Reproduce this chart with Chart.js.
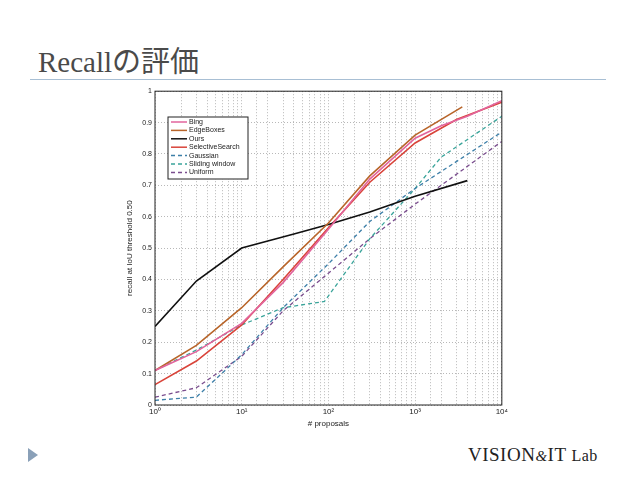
<!DOCTYPE html>
<html><head><meta charset="utf-8">
<script src="https://cdn.jsdelivr.net/npm/chart.js@4"></script>
<style>
body{margin:0;width:638px;height:478px;background:#fff;position:relative;overflow:hidden;font-family:"Liberation Serif",serif}
#title{position:absolute;left:38px;top:38px;font-size:29px;color:#4a4a4a;font-family:"Liberation Serif","Noto Sans CJK JP",serif}
#rule{position:absolute;left:30px;top:79px;width:576px;height:1px;background:#a8bfd4}
#wrap{position:absolute;left:125px;top:84px;width:385px;height:345px}
#tri{position:absolute;left:28px;top:448px;width:0;height:0;border-top:7px solid transparent;border-bottom:7px solid transparent;border-left:10px solid #8aa0b8}
#logo{position:absolute;left:468px;top:444px;font-size:19px;color:#222;letter-spacing:0.5px}
</style></head><body>
<div id="title">Recallの評価</div>
<div id="rule"></div>
<div id="wrap"><canvas id="c" width="385" height="345"></canvas></div>
<div id="tri"></div>
<div id="logo">VISION<i style="font-size:15px">&amp;</i>IT <span style="font-size:16px">Lab</span></div>
<script>
// ── DATA ──────────────────────────────
const bingX  = [1, 3, 10, 30, 100, 300, 1000, 2000, 4000, 10000];
const bingY  = [0.11, 0.17, 0.26, 0.39, 0.56, 0.72, 0.85, 0.89, 0.92, 0.97];
const edgeX  = [1, 3, 10, 30, 100, 300, 1000, 3500];
const edgeY  = [0.11, 0.19, 0.31, 0.44, 0.58, 0.73, 0.86, 0.95];
const oursX  = [1, 3, 10, 40, 100, 300, 1000, 4000];
const oursY  = [0.25, 0.395, 0.50, 0.545, 0.575, 0.615, 0.665, 0.715];
const ssX    = [1, 3, 10, 30, 100, 300, 1000, 3000, 10000];
const ssY    = [0.065, 0.14, 0.255, 0.40, 0.565, 0.71, 0.835, 0.91, 0.965];
const gaussX = [1, 3, 10, 30, 100, 300, 1000, 10000];
const gaussY = [0.015, 0.025, 0.16, 0.31, 0.45, 0.585, 0.69, 0.87];
const slideX = [1, 3, 10, 30, 90, 300, 1000, 2000, 10000];
const slideY = [0.11, 0.175, 0.255, 0.31, 0.33, 0.53, 0.69, 0.79, 0.92];
const unifX  = [1, 3, 10, 30, 100, 300, 1000, 10000];
const unifY  = [0.025, 0.055, 0.155, 0.30, 0.42, 0.53, 0.64, 0.84];
const yTicks = [0, 0.1, 0.2, 0.3, 0.4, 0.5, 0.6, 0.7, 0.8, 0.9, 1];

const pts = (xs, ys) => xs.map((x, i) => ({ x, y: ys[i] }));
const SUP = { 0: "⁰", 1: "¹", 2: "²", 3: "³", 4: "⁴" };

function ds(label, xs, ys, color, dashed) {
  return {
    label, data: pts(xs, ys), borderColor: color, backgroundColor: color,
    borderWidth: dashed ? 1.3 : 1.6, borderDash: dashed ? [4, 3] : [],
    pointRadius: 0, tension: 0, fill: false
  };
}

// legend + frame drawn on canvas
const boxPlugin = {
  id: "box",
  afterDraw(chart) {
    const { ctx, chartArea: a } = chart;
    ctx.save();
    ctx.strokeStyle = "#222"; ctx.lineWidth = 1;
    ctx.strokeRect(a.left, a.top, a.right - a.left, a.bottom - a.top);
    const lx = 168 - 125, ly = 117 - 84, lw = 80, lh = 62;
    ctx.fillStyle = "#fff"; ctx.fillRect(lx, ly, lw, lh);
    ctx.strokeRect(lx, ly, lw, lh);
    ctx.font = "7px 'Liberation Sans'"; ctx.textBaseline = "middle";
    chart.data.datasets.forEach((d, i) => {
      const y = ly + 5 + i * 8.4;
      ctx.strokeStyle = d.borderColor; ctx.lineWidth = 1.5;
      ctx.setLineDash(d.borderDash);
      ctx.beginPath(); ctx.moveTo(lx + 3, y); ctx.lineTo(lx + 19, y); ctx.stroke();
      ctx.setLineDash([]);
      ctx.fillStyle = "#222"; ctx.fillText(d.label, lx + 21, y);
    });
    ctx.restore();
  }
};

new Chart(document.getElementById("c"), {
  type: "line",
  data: {
    datasets: [
      ds("Bing", bingX, bingY, "#e2649c", false),
      ds("EdgeBoxes", edgeX, edgeY, "#b8652a", false),
      ds("Ours", oursX, oursY, "#111111", false),
      ds("SelectiveSearch", ssX, ssY, "#d9443a", false),
      ds("Gaussian", gaussX, gaussY, "#3d7fa8", true),
      ds("Sliding window", slideX, slideY, "#3aa49a", true),
      ds("Uniform", unifX, unifY, "#7a4d8e", true)
    ]
  },
  options: {
    responsive: false, animation: false,
    layout: { padding: { top: 5, right: 7, bottom: 0, left: 0 } },
    plugins: { legend: { display: false }, tooltip: { enabled: false } },
    scales: {
      x: {
        type: "logarithmic", min: 1, max: 10000,
        afterFit: s => { s.height = 24; },
        grid: { color: "#888", lineWidth: 0.6, tickLength: 0 },
        border: { display: false, dash: [1, 2] },
        ticks: {
          color: "#222", font: { size: 8, family: "Liberation Sans" }, maxRotation: 0, padding: 2,
          autoSkip: false,
          callback: v => { const e = Math.log10(v); return Number.isInteger(Math.round(e * 1e6) / 1e6) ? "10" + SUP[Math.round(e)] : ""; }
        },
        title: { display: true, text: "# proposals", color: "#222", font: { size: 8, family: "Liberation Sans" }, padding: 0 }
      },
      y: {
        min: 0, max: 1,
        afterBuildTicks: s => { s.ticks = yTicks.map(v => ({ value: v })); },
        afterFit: s => { s.width = 30; },
        grid: { color: "#888", lineWidth: 0.6, tickLength: 0 },
        border: { display: false, dash: [1, 2] },
        ticks: { color: "#222", font: { size: 7, family: "Liberation Sans" }, padding: 3, callback: v => String(v) },
        title: { display: true, text: "recall at IoU threshold 0.50", color: "#222", font: { size: 8, family: "Liberation Sans" }, padding: 0 }
      }
    }
  },
  plugins: [boxPlugin]
});
</script>
</body></html>
